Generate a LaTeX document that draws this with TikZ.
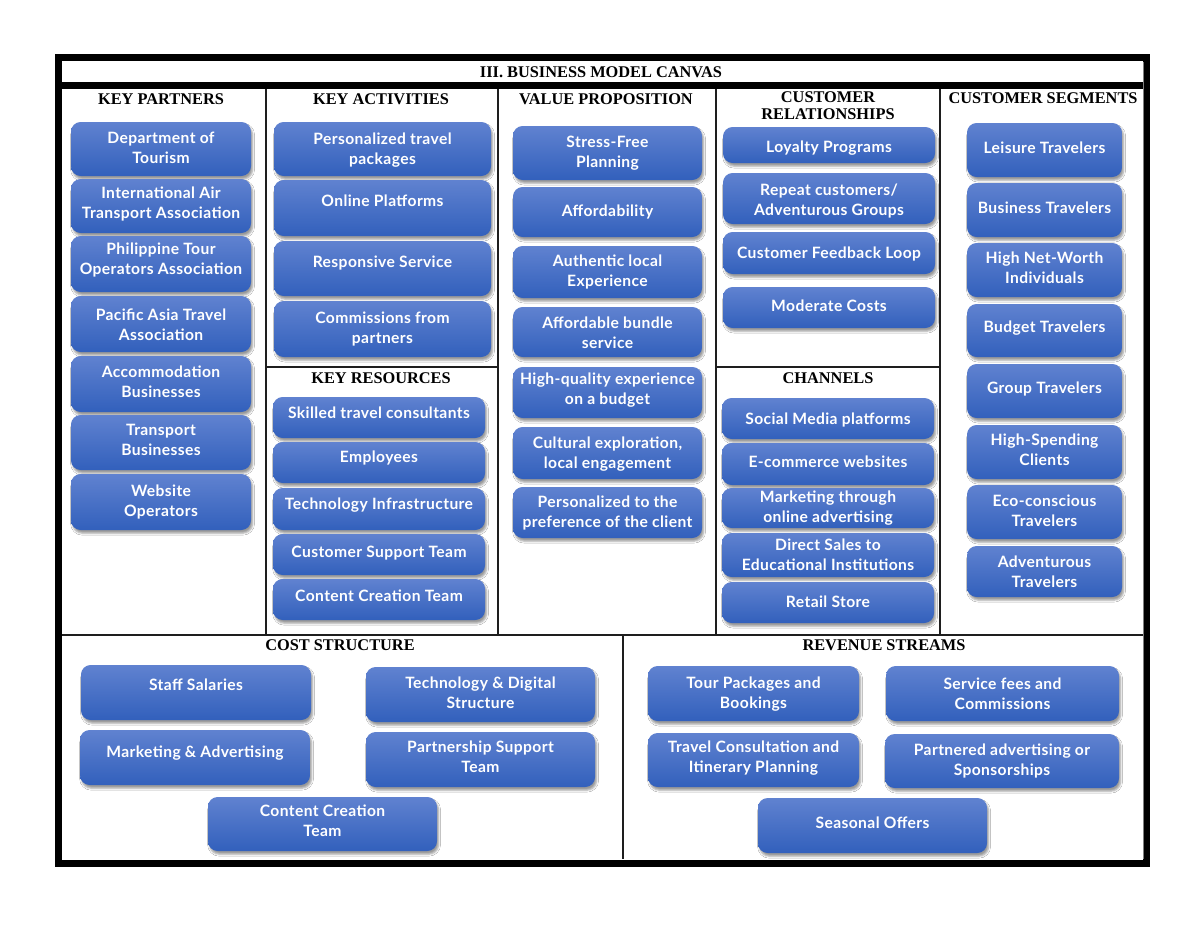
\documentclass[tikz,border=0pt]{standalone}
\usepackage{fontspec}
\setmainfont{Liberation Serif}
\newfontfamily\boxfont{Lato}[LetterSpace=2.5]
\usetikzlibrary{shadows.blur}
\definecolor{boxtop}{RGB}{96,130,208}
\definecolor{boxbot}{RGB}{50,96,188}
\definecolor{lineg}{RGB}{30,30,30}
\tikzset{
  cbox/.style={rounded corners=5.5pt, draw=none, top color=boxtop, bottom color=boxbot,
    blur shadow={shadow xshift=0.9pt, shadow yshift=-1.8pt, shadow blur radius=1.1pt, shadow opacity=40}},
  ctext/.style={text=white, font=\boxfont\bfseries\fontsize{8.9}{11.3}\selectfont, align=center, inner sep=0pt},
  hdr/.style={font=\bfseries\fontsize{9.3}{9.6}\selectfont, align=center, inner sep=0pt},
  frame/.style={line width=3.97pt, draw=black},
  divider/.style={line width=0.9pt, draw=lineg}
}
\newcommand\bx[7]{%
  \node[cbox, minimum width={(#4-#2)*0.02cm}, minimum height={(#5-#3)*0.02cm}] (#1) at ({(#2+#4)/2},{(#3+#5)/2}) {};
  \node[ctext] (#1t) at ({(#2+#4)/2},#6) {#7};}
\begin{document}
\begin{tikzpicture}[x=0.02cm,y=-0.02cm]
\useasboundingbox[fill=white] (0,0) rectangle (1200,927);
% outer frame
\draw[frame] (58.5,57.5) rectangle (1146.5,863.5);
\coordinate (tl) at (62,85.5); \coordinate (tr) at (1143,85.5);
\draw[frame] (tl) -- (tr);
\draw[line width=0.5pt, draw=gray] (1143,62) -- (1143,859);
% dividers
\coordinate (c1t) at (266,89); \coordinate (c1b) at (266,635);
\coordinate (c2t) at (498,89); \coordinate (c2b) at (498,635);
\coordinate (c3t) at (716,89); \coordinate (c3b) at (716,635);
\coordinate (c4t) at (940,89); \coordinate (c4b) at (940,635);
\coordinate (hl) at (62,635); \coordinate (hr) at (1143,635);
\coordinate (bt) at (623,635); \coordinate (bb) at (623,859);
\coordinate (k1) at (266,367); \coordinate (k2) at (498,367);
\coordinate (r1) at (716,367); \coordinate (r2) at (940,367);
\draw[divider] (c1t) -- (c1b); \draw[divider] (c2t) -- (c2b);
\draw[divider] (c3t) -- (c3b); \draw[divider] (c4t) -- (c4b);
\draw[divider] (hl) -- (hr); \draw[divider] (bt) -- (bb);
\draw[divider] (k1) -- (k2); \draw[divider] (r1) -- (r2);
% headers
\node[hdr] (title) at (601,72) {III. BUSINESS MODEL CANVAS};
\node[hdr] (hkp) at (161,99) {KEY PARTNERS};
\node[hdr] (hka) at (381,99) {KEY ACTIVITIES};
\node[hdr] (hvp) at (606,99) {VALUE PROPOSITION};
\node[hdr] (hcr) at (828,105.5) {CUSTOMER\\RELATIONSHIPS};
\node[hdr] (hcs) at (1043,98) {CUSTOMER SEGMENTS};
\node[hdr] (hkr) at (381,378) {KEY RESOURCES};
\node[hdr] (hch) at (828,378) {CHANNELS};
\node[hdr] (hco) at (340,645) {COST STRUCTURE};
\node[hdr] (hrs) at (884,645) {REVENUE STREAMS};
% key partners
\bx{kp1}{71}{122}{251}{176}{148}{Department of\\Tourism}
\bx{kp2}{71}{179}{251}{233}{204}{International Air\\Transport Association}
\bx{kp3}{71}{236}{251}{292}{260}{Philippine Tour\\Operators Association}
\bx{kp4}{71}{296}{251}{352}{325}{Pacific Asia Travel\\Association}
\bx{kp5}{71}{356}{251}{412}{382}{Accommodation\\Businesses}
\bx{kp6}{71}{415}{251}{470}{440}{Transport\\Businesses}
\bx{kp7}{71}{474}{251}{530}{502}{Website\\Operators}
% key activities
\bx{ka1}{274}{122}{491}{176}{150}{Personalized travel\\packages}
\bx{ka2}{274}{180}{491}{236}{201}{Online Platforms}
\bx{ka3}{274}{241}{491}{296}{263}{Responsive Service}
\bx{ka4}{274}{301}{491}{357}{329}{Commissions from\\partners}
% key resources
\bx{kr1}{273}{397}{485}{438}{413}{Skilled travel consultants}
\bx{kr2}{273}{442}{485}{483}{458}{Employees}
\bx{kr3}{273}{488}{485}{530}{505}{Technology Infrastructure}
\bx{kr4}{273}{534}{485}{575}{553}{Customer Support Team}
\bx{kr5}{273}{579}{485}{620}{596}{Content Creation Team}
% value proposition
\bx{vp1}{513}{126}{702}{180}{153}{Stress-Free\\Planning}
\bx{vp2}{513}{187}{702}{237}{212}{Affordability}
\bx{vp3}{513}{246}{702}{298}{272}{Authentic local\\Experience}
\bx{vp4}{513}{307}{702}{357}{333}{Affordable bundle\\service}
\bx{vp5}{513}{367}{702}{418}{390}{High-quality experience\\on a budget}
\bx{vp6}{513}{427}{702}{479}{454}{Cultural exploration,\\local engagement}
\bx{vp7}{513}{487}{702}{538}{513}{Personalized to the\\preference of the client}
% customer relationships
\bx{cr1}{723}{127}{935}{163}{148}{Loyalty Programs}
\bx{cr2}{723}{173}{935}{224}{201}{Repeat customers/\\Adventurous Groups}
\bx{cr3}{723}{232}{935}{274}{254}{Customer Feedback Loop}
\bx{cr4}{723}{287}{935}{328}{306}{Moderate Costs}
% channels
\bx{ch1}{722}{398}{934}{439}{420}{Social Media platforms}
\bx{ch2}{722}{443}{934}{485}{462}{E-commerce websites}
\bx{ch3}{722}{488}{934}{528}{508}{Marketing through\\online advertising}
\bx{ch4}{722}{533}{934}{577}{555}{Direct Sales to\\Educational Institutions}
\bx{ch5}{722}{582}{934}{623}{602}{Retail Store}
% customer segments
\bx{cs1}{967}{123}{1122}{177}{148}{Leisure Travelers}
\bx{cs2}{967}{183}{1122}{237}{208}{Business Travelers}
\bx{cs3}{967}{243}{1122}{297}{268}{High Net-Worth\\Individuals}
\bx{cs4}{967}{304}{1122}{357}{328}{Budget Travelers}
\bx{cs5}{967}{364}{1122}{418}{389}{Group Travelers}
\bx{cs6}{967}{425}{1122}{479}{450}{High-Spending\\Clients}
\bx{cs7}{967}{485}{1122}{539}{511}{Eco-conscious\\Travelers}
\bx{cs8}{967}{546}{1122}{597}{572}{Adventurous\\Travelers}
% cost structure
\bx{co1}{81}{665}{311}{720}{685}{Staff Salaries}
\bx{co2}{366}{667}{595}{722}{693}{Technology \& Digital\\Structure}
\bx{co3}{80}{730}{310}{785}{753}{Marketing \& Advertising}
\bx{co4}{366}{732}{595}{787}{757}{Partnership Support\\Team}
\bx{co5}{208}{797}{437}{851}{821}{Content Creation\\Team}
% revenue streams
\bx{rs1}{648}{666}{859}{721}{694}{Tour Packages and\\Bookings}
\bx{rs2}{886}{666}{1119}{721}{694}{Service fees and\\Commissions}
\bx{rs3}{648}{733}{859}{787}{758}{Travel Consultation and\\Itinerary Planning}
\bx{rs4}{885}{734}{1119}{788}{761}{Partnered advertising or\\Sponsorships}
\bx{rs5}{758}{798}{987}{853}{823}{Seasonal Offers}
\end{tikzpicture}
\end{document}
